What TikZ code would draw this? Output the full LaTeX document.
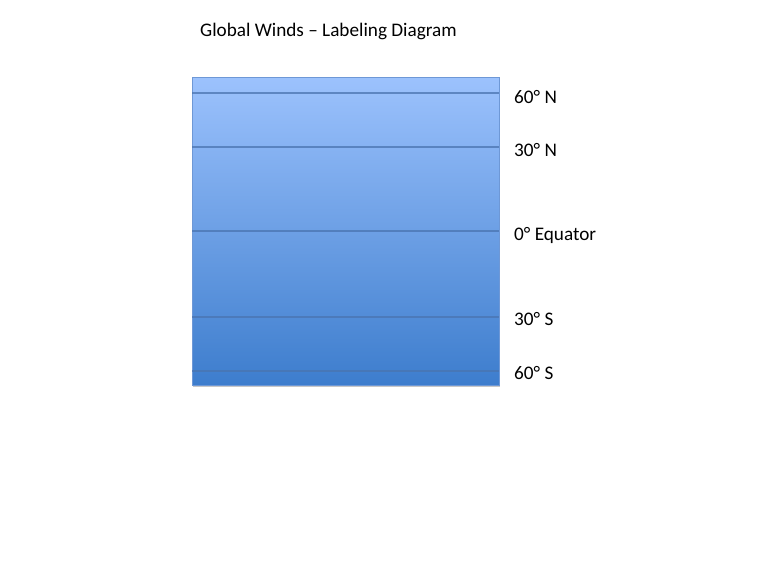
\documentclass[tikz,border=0pt]{standalone}
\usepackage{fontspec}
\setmainfont{Carlito}
\definecolor{topblue}{HTML}{9CC2FD}
\definecolor{botblue}{HTML}{3D7DCD}
\definecolor{bandline}{HTML}{4A74B0}
\definecolor{edgeblue}{HTML}{6E98D6}
\begin{document}
\begin{tikzpicture}[x=1pt,y=-1pt,
  lbl/.style={anchor=west,inner sep=0pt,font=\fontsize{19.2}{22}\selectfont},
  band/.style={draw=bandline,line width=1.3pt,opacity=0.75}]
\useasboundingbox (0,0) rectangle (768,576);
\node[lbl] (title) at (200,31) {Global Winds – Labeling Diagram};
\fill[black!22] (193,79) rectangle (500,387);
\shade[top color=topblue,bottom color=botblue,draw=edgeblue,line width=0.8pt] (192,77) rectangle (499,385);
\coordinate (l1a) at (192,93);  \coordinate (l1b) at (499,93);
\coordinate (l2a) at (192,147); \coordinate (l2b) at (499,147);
\coordinate (l3a) at (192,231); \coordinate (l3b) at (499,231);
\coordinate (l4a) at (192,317); \coordinate (l4b) at (499,317);
\coordinate (l5a) at (192,371); \coordinate (l5b) at (499,371);
\foreach \i in {1,...,5}{\draw[band] (l\i a) -- (l\i b);}
\node[lbl] (n60) at (514,97) {60° N};
\node[lbl] (n30) at (514,150) {30° N};
\node[lbl] (eq) at (514,235) {0° Equator};
\node[lbl] (s30) at (514,319) {30° S};
\node[lbl] (s60) at (514,373) {60° S};
\end{tikzpicture}
\end{document}
